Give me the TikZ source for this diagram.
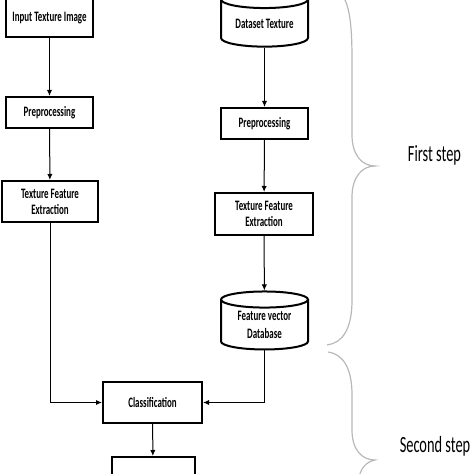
\documentclass[tikz,border=0pt]{standalone}
\usepackage{fontspec}
\setmainfont{Carlito}[FakeStretch=0.62]
\usetikzlibrary{arrows.meta,shapes.geometric}

\begin{document}
\begin{tikzpicture}[x=0.5pt,y=-0.5pt,>={Latex[length=3pt,width=2.6pt]},
  box/.style={draw,line width=1pt,align=center,inner sep=0pt,
    font=\bfseries\fontsize{7.2}{8}\selectfont},
  db/.style={box,cylinder,shape border rotate=90,aspect=0.3},
  flow/.style={->,line width=0.5pt},
  brc/.style={black!28,line width=0.6pt},
  steplbl/.style={font=\fontsize{11.6}{13}\selectfont}]
  \useasboundingbox (0,0) rectangle (474,474);
  % left column
  \node[box,minimum width=43.5pt,minimum height=19pt] (inimg) at (49.5,18.5) {Input Texture Image};
  \node[box,minimum width=43.5pt,minimum height=15.5pt] (prepL) at (49.5,112.5) {Preprocessing};
  \node[box,minimum width=48pt,minimum height=20.5pt] (tfeL) at (50,201.5) {Texture Feature\\Extraction};
  % right column
  \node[db,minimum width=43.5pt,minimum height=28pt] (dset) at (264.5,23.5) {\raisebox{-3pt}{Dataset Texture}};
  \node[box,minimum width=43.5pt,minimum height=15.5pt] (prepR) at (264.5,123.5) {Preprocessing};
  \node[box,minimum width=49pt,minimum height=21pt] (tfeR) at (264,214) {Texture Feature\\Extraction};
  \node[db,minimum width=43.5pt,minimum height=29pt] (fvdb) at (264.5,325) {\raisebox{-3pt}{\shortstack{Feature vector\\[1pt]Database}}};
  % bottom
  \node[box,minimum width=49.5pt,minimum height=20.5pt] (classif) at (152.5,402.5) {Classification};
  \node[box,minimum width=41.5pt,minimum height=21pt] (result) at (153,478) {};
  \draw[flow] (inimg) -- (prepL);
  \draw[flow] (prepL) -- (tfeL);
  \draw[flow] (tfeL.south) |- (classif.west);
  \draw[flow] (dset) -- (prepR);
  \draw[flow] (prepR) -- (tfeR);
  \draw[flow] (tfeR) -- (fvdb);
  \draw[flow] (fvdb.south) |- (classif.east);
  \draw[flow] (classif) -- (result);
  % braces
  \draw[brc] (338,-10) .. controls (349,0) and (352,20) .. (352,60) -- (352,135)
    .. controls (352,155) and (362,166) .. (375,166)
    .. controls (362,166) and (352,177) .. (352,197) -- (352,300)
    .. controls (352,330) and (342,343) .. (327,345);
  \draw[brc] (328,352) .. controls (343,354) and (352,368) .. (352,395) -- (352,430)
    .. controls (352,450) and (362,460) .. (375,460)
    .. controls (366,462) and (360,468) .. (358,482);
  \node[steplbl] (first) at (434.5,155) {First step};
  \node[steplbl] (second) at (435,446) {Second step};
\end{tikzpicture}
\end{document}
